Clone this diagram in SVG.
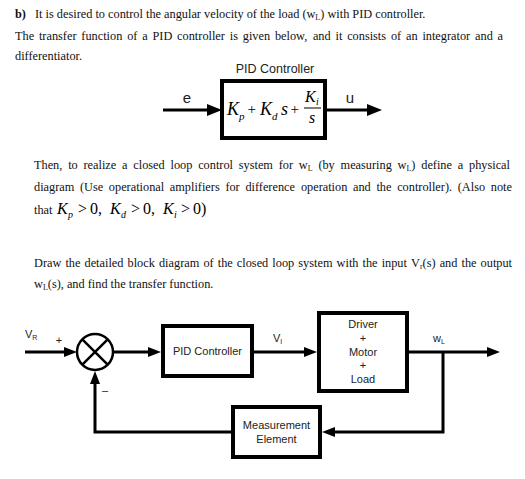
<svg xmlns="http://www.w3.org/2000/svg" width="525" height="479" viewBox="0 0 525 479">
<style>
.p{font-family:"Liberation Serif","Times New Roman",serif;font-size:12.3px;fill:#111}
.sb{font-size:8px}
.m{font-family:"Liberation Serif","Times New Roman",serif;font-style:italic;fill:#000}
.mu{font-family:"Liberation Serif","Times New Roman",serif;fill:#000}
.s{font-family:"Liberation Sans",Arial,sans-serif;font-size:11px;fill:#222}
.box{fill:#fff;stroke:#000;stroke-width:4}
.ln{fill:none;stroke:#000;stroke-width:3}
</style>
<defs>
<marker id="ah" markerUnits="userSpaceOnUse" markerWidth="13" markerHeight="10" refX="0" refY="5" orient="auto"><path d="M0,0 L13,5 L0,10 z" fill="#000"/></marker>
<marker id="ahL" markerUnits="userSpaceOnUse" markerWidth="15" markerHeight="12" refX="0" refY="6" orient="auto"><path d="M0,0 L15,6 L0,12 z" fill="#000"/></marker>
</defs>
<rect width="525" height="479" fill="#fff"/>

<g id="text">
<text class="p" x="15" y="18" font-weight="bold">b)</text>
<text class="p" x="35" y="18" font-size="11.5">It is desired to control the angular velocity of the load (w<tspan class="sb" y="19.5">L</tspan><tspan y="18">) with PID controller.</tspan></text>
<text class="p" y="40"><tspan x="15">The</tspan><tspan x="38.95">transfer</tspan><tspan x="81.33">function</tspan><tspan x="127.13">of</tspan><tspan x="142.2">a</tspan><tspan x="152.48">PID</tspan><tspan x="177.12">controller</tspan><tspan x="229.76">is</tspan><tspan x="242.78">given</tspan><tspan x="274.93">below,</tspan><tspan x="312.89">and</tspan><tspan x="335.47">it</tspan><tspan x="347.13">consists</tspan><tspan x="390.9">of</tspan><tspan x="405.97">an</tspan><tspan x="422.4">integrator</tspan><tspan x="475.04">and</tspan><tspan x="497.62">a</tspan></text>
<text class="p" x="15" y="60">differentiator.</text>

<text class="p" y="169"><tspan x="34">Then,</tspan><tspan x="68.13">to</tspan><tspan x="83.48">realize</tspan><tspan x="122.04">a</tspan><tspan x="133.28">closed</tspan><tspan x="170.49">loop</tspan><tspan x="198.14">control</tspan><tspan x="238.77">system</tspan><tspan x="278.72">for</tspan><tspan x="298.84">w</tspan><tspan class="sb" y="170.5">L</tspan><tspan x="318.39" y="169">(by</tspan><tspan x="340.57">measuring</tspan><tspan x="397.59">w</tspan><tspan class="sb" y="170.5">L</tspan><tspan y="169">)</tspan><tspan x="421.24">define</tspan><tspan x="457.76">a</tspan><tspan x="469">physical</tspan></text>
<text class="p" y="191"><tspan x="34">diagram</tspan><tspan x="79.97">(Use</tspan><tspan x="108.85">operational</tspan><tspan x="169.85">amplifiers</tspan><tspan x="225.39">for</tspan><tspan x="245.39">difference</tspan><tspan x="300.9">operation</tspan><tspan x="353.02">and</tspan><tspan x="376.44">the</tspan><tspan x="397.13">controller).</tspan><tspan x="457.78">(Also</tspan><tspan x="490.77">note</tspan></text>
<text class="p" x="34" y="214">that</text>
<g id="cond" font-size="16">
<text class="m" x="57" y="214">K</text><text class="m" x="68" y="218" font-size="10">p</text>
<text class="mu" x="78" y="214">&gt;</text><text class="mu" x="90" y="214">0,</text>
<text class="m" x="110" y="214">K</text><text class="m" x="121" y="218" font-size="10">d</text>
<text class="mu" x="131" y="214">&gt;</text><text class="mu" x="143" y="214">0,</text>
<text class="m" x="163" y="214">K</text><text class="m" x="174" y="218" font-size="10">i</text>
<text class="mu" x="181" y="214">&gt;</text><text class="mu" x="193" y="214">0)</text>
</g>

<text class="p" y="267"><tspan x="34">Draw</tspan><tspan x="65.41">the</tspan><tspan x="84.53">detailed</tspan><tspan x="127.56">block</tspan><tspan x="158.98">diagram</tspan><tspan x="203.38">of</tspan><tspan x="217.72">the</tspan><tspan x="236.84">closed</tspan><tspan x="272.36">loop</tspan><tspan x="298.32">system</tspan><tspan x="336.58">with</tspan><tspan x="362.54">the</tspan><tspan x="381.66">input</tspan><tspan x="411.04">V</tspan><tspan class="sb" y="268.5">r</tspan><tspan y="267">(s)</tspan><tspan x="439.65">and</tspan><tspan x="461.5">the</tspan><tspan x="480.62">output</tspan></text>
<text class="p" x="34" y="288">w<tspan class="sb" y="289.5">L</tspan><tspan y="288">(s), and find the transfer function.</tspan></text>
</g>

<g id="pid-top">
<text x="275" y="73" text-anchor="middle" font-family="Liberation Sans,Arial,sans-serif" font-size="12.5" fill="#222">PID Controller</text>
<rect class="box" x="222" y="81" width="103" height="57"/>
<text class="m" x="227" y="115" font-size="18">K</text>
<text class="m" x="239" y="120" font-size="11">p</text>
<text class="mu" x="247.5" y="114" font-size="15">+</text>
<text class="m" x="260" y="115" font-size="18">K</text>
<text class="m" x="272" y="120" font-size="11">d</text>
<text class="m" x="281" y="115" font-size="18">s</text>
<text class="mu" x="290.5" y="114" font-size="15">+</text>
<text class="m" x="305" y="102" font-size="16">K</text>
<text class="m" x="316" y="105" font-size="10">i</text>
<line x1="304" y1="108" x2="321" y2="108" stroke="#000" stroke-width="1"/>
<text class="m" x="309" y="123" font-size="16">s</text>
<text x="187" y="103" text-anchor="middle" font-family="Liberation Sans,Arial,sans-serif" font-size="15" fill="#222">e</text>
<text x="350" y="103" text-anchor="middle" font-family="Liberation Sans,Arial,sans-serif" font-size="15" fill="#222">u</text>
</g>

<g id="sum">
<circle cx="95" cy="352" r="18" fill="#fff" stroke="#000" stroke-width="2.5"/>
<path d="M82.3,339.3 L107.7,364.7 M107.7,339.3 L82.3,364.7" stroke="#000" stroke-width="2.5"/>
<text class="s" x="59" y="344" text-anchor="middle" font-size="12">+</text>
<text class="s" x="105" y="394" text-anchor="middle" font-size="11">–</text>
<text class="s" x="25" y="338" font-size="10">V<tspan font-size="7" y="339.5">R</tspan></text>
</g>

<g id="pid">
<rect class="box" x="163" y="326" width="89" height="50"/>
<text class="s" x="207.5" y="355" text-anchor="middle">PID Controller</text>
</g>

<g id="plant">
<rect class="box" x="319" y="313" width="88" height="78"/>
<text class="s" x="363" y="328" text-anchor="middle">Driver</text>
<text class="s" x="363" y="342" text-anchor="middle">+</text>
<text class="s" x="363" y="356" text-anchor="middle">Motor</text>
<text class="s" x="363" y="369" text-anchor="middle">+</text>
<text class="s" x="363" y="383" text-anchor="middle">Load</text>
</g>

<g id="meas">
<rect class="box" x="233" y="407" width="87" height="50"/>
<text class="s" x="276.5" y="429" text-anchor="middle">Measurement</text>
<text class="s" x="276.5" y="443" text-anchor="middle">Element</text>
</g>

<g id="labels">
<text class="s" x="273" y="342" font-size="10">V<tspan font-size="7" y="343.5">I</tspan></text>
<text class="s" x="433" y="342" font-size="10">w<tspan font-size="7" y="343.5">L</tspan></text>
</g>

<g id="connectors">
<path class="ln" d="M163,110 H207" stroke-width="3.5" marker-end="url(#ahL)"/>
<path class="ln" d="M325,110 H367" stroke-width="3.5" marker-end="url(#ahL)"/>
<path class="ln" d="M25,352 H64" marker-end="url(#ah)"/>
<path class="ln" d="M113,352 H148" marker-end="url(#ah)"/>
<path class="ln" d="M252,352 H304" marker-end="url(#ah)"/>
<path class="ln" d="M407,352 H487" marker-end="url(#ah)"/>
<path class="ln" d="M443,352 V432 H335" marker-end="url(#ah)"/>
<path class="ln" d="M233,432 H95 V384" marker-end="url(#ah)"/>
</g>
</svg>
